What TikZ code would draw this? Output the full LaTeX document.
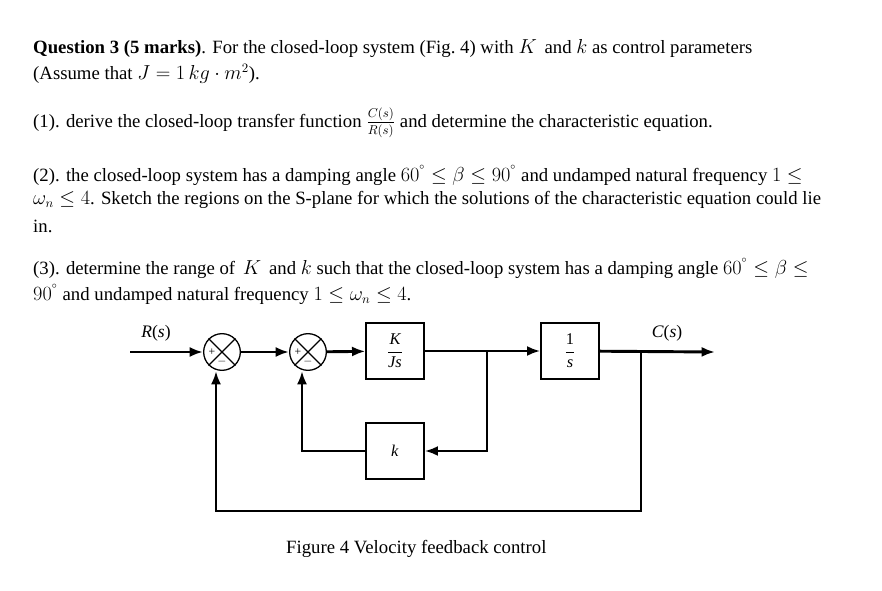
\documentclass[tikz,border=0pt]{standalone}
\usetikzlibrary{arrows.meta}
\usepackage{amsmath}
\usepackage{fontspec}
\setmainfont{Liberation Serif}
\begin{document}
\begin{tikzpicture}[x=0.03cm,y=-0.03cm,
 txt/.style={anchor=west,inner sep=0,font=\fontsize{16}{19}\selectfont},
 blk/.style={draw,line width=1.1pt,minimum width=1.74cm,minimum height=1.68cm,inner sep=0,font=\fontsize{14}{16}\selectfont},
 sum/.style={draw,circle,line width=1.1pt,minimum size=1.1cm,inner sep=0},
 lbl/.style={inner sep=0,font=\fontsize{15}{17}\selectfont},
 ar/.style={line width=2.5pt,-{Latex[length=4mm,width=3mm]}}]
\useasboundingbox (0,0) rectangle (882,591);
\node[txt] (t1) at (33,48) {\textbf{Question 3 (5 marks)}. For the closed-loop system (Fig.\ 4) with $K$\, and $k$ as control parameters};
\node[txt] (t2) at (33,74) {(Assume that $J=1\,kg\cdot m^2$).};
\node[txt] (t3) at (33,123) {(1). derive the closed-loop transfer function $\frac{C(s)}{R(s)}$ and determine the characteristic equation.};
\node[txt] (t4) at (33,175) {(2). the closed-loop system has a damping angle $60^{^\circ}\le\beta\le90^{^\circ}$ and undamped natural frequency $1\le$};
\node[txt] (t5) at (33,200) {$\omega_n\le4$. Sketch the regions on the S-plane for which the solutions of the characteristic equation could lie};
\node[txt] (t6) at (33,226) {in.};
\node[txt] (t7) at (33,268) {(3). determine the range of\, $K$\, and $k$ such that the closed-loop system has a damping angle $60^{^\circ}\le\beta\le$};
\node[txt] (t8) at (33,294) {$90^{^\circ}$ and undamped natural frequency $1\le\omega_n\le4$.};
\node[txt] (cap) at (286,549) {Figure 4 Velocity feedback control};
% diagram
\node[sum] (s1) at (222,352) {};
\node[sum] (s2) at (308,352) {};
\foreach \s in {s1,s2}{
 \draw[line width=1pt] (\s.north west)--(\s.south east) (\s.north east)--(\s.south west);
 \node[font=\normalsize,inner sep=0] at ([xshift=-0.3cm]\s.center) {+};
 \node[font=\normalsize,inner sep=0] at ([yshift=-0.3cm]\s.center) {$-$};}
\node[blk] (g) at (395,351) {$\dfrac{\textit{K}}{\textit{Js}}$};
\node[blk] (h) at (570,351) {$\dfrac{\text{1}}{\textit{s}}$};
\node[blk] (kb) at (395,451) {\textit{k}};
\coordinate (in) at (130,352);
\coordinate (out) at (715,352);
\coordinate (br) at (487,352);
\coordinate (co) at (641,352);
\coordinate (bl) at (216,511);
\node[lbl] (R) at (156,333) {\textit{R}(\textit{s})};
\node[lbl] (C) at (667,333) {\textit{C}(\textit{s})};
\draw[ar] (in)--(s1);
\draw[ar] (s1)--(s2);
\draw[ar] (s2)--(g);
\draw[ar] (g)--(h);
\draw[ar] (h)--(out);
\draw[ar] (br)|-(kb);
\draw[ar] (kb.west)-|([xshift=-0.18cm]s2.south);
\draw[ar] (co)|-(bl)--([xshift=-0.18cm]s1.south);
\end{tikzpicture}
\end{document}
